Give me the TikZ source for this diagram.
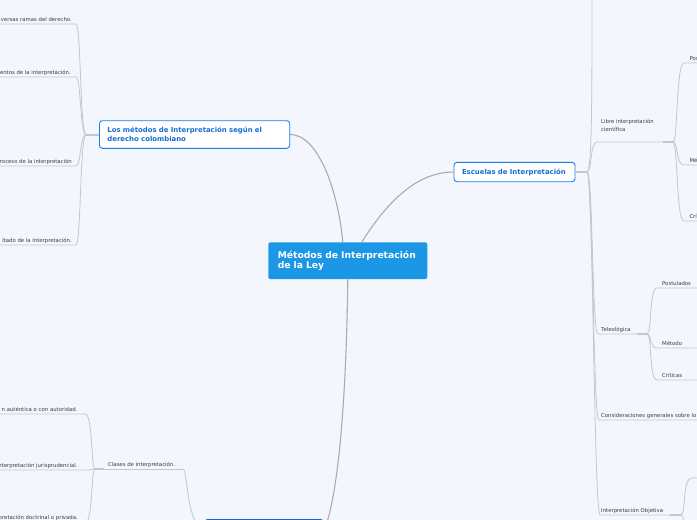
\documentclass[tikz,border=0pt]{standalone}
\usepackage{fontspec}
\setmainfont{DejaVu Sans}
\definecolor{bg}{RGB}{243,246,253}
\definecolor{lineg}{RGB}{196,198,204}
\definecolor{lined}{RGB}{170,172,178}
\definecolor{rootblue}{RGB}{27,151,230}
\definecolor{nodeblue}{RGB}{26,124,230}
\definecolor{textblue}{RGB}{20,110,210}
\definecolor{darkblue}{RGB}{21,101,192}
\definecolor{txt}{RGB}{60,60,64}
\begin{document}
\begin{tikzpicture}[x=1pt,y=-1pt,
  ln/.style={draw=lineg, line width=0.8pt},
  stub/.style={draw=lineg, line width=2pt},
  rootln/.style={draw=lined, line width=1.1pt},
  lbl/.style={font=\fontsize{5.35}{8}\selectfont, text=txt, inner sep=0pt},
  topic/.style={draw=nodeblue, line width=0.9pt, fill=white, rounded corners=3pt,
    font=\bfseries\fontsize{6.9}{8.6}\selectfont, text=textblue, align=left, inner ysep=0pt},
  rootnode/.style={fill=rootblue, rounded corners=2pt, inner ysep=0pt,
    font=\bfseries\fontsize{9.2}{10.7}\selectfont, text=white, align=left}
]
\useasboundingbox (0,0) rectangle (697,520);
\fill[bg] (0,0) rectangle (697,520);
\clip (0,0) rectangle (697,520);

% main nodes
\node[rootnode, text width=140pt, inner xsep=9.5pt, minimum height=36.7pt] (root) at (347.8,260.7)
  {Métodos de Interpretación\\de la Ley};
\node[topic, text width=174.3pt, inner xsep=8pt, minimum height=27.6pt] (lm) at (194.6,134.5)
  {Los métodos de Interpretación según el\\derecho colombiano};
\node[topic, text width=105pt, inner xsep=8pt, minimum height=19.4pt] (esc) at (514.5,172)
  {Escuelas de Interpretación};
\node[fill=darkblue, minimum width=118pt, minimum height=26pt, inner sep=0pt, rounded corners=2pt, anchor=north] (bn) at (264,519) {};

% root connectors
\draw[rootln] (lm.east) .. controls (318,134.5) and (338,190) .. ([xshift=-5pt]root.north);
\draw[rootln] ([xshift=14pt]root.north) .. controls (385,205) and (415,172) .. (esc.west);
\draw[rootln] (root.south) .. controls (346,420) and (336,505) .. (bn.east);

% ---- left branch: Los metodos ----
\coordinate (jm) at (86,134.5);
\draw[stub] (lm.west) -- (jm);
\node[lbl, anchor=base east] (m1) at (72,21) {versas ramas del derecho.};
\node[lbl, anchor=base east] (m2) at (71,74) {entos de la interpretación.};
\node[lbl, anchor=base east] (m3) at (72,163) {roceso de la interpretación};
\node[lbl, anchor=base east] (m4) at (72,242) {ltado de la interpretación.};
\foreach \yc in {24,77,166,245}{
  \draw[ln] (jm) .. controls (80,134.5) and (81,\yc) .. (76,\yc) -- (-5,\yc);
}

% ---- bottom left: Clases ----
\node[lbl, anchor=base west] (cl) at (108,466) {Clases de interpretación.};
\coordinate (clr) at (183,469);
\coordinate (cll) at (104,469);
\draw[ln] (cll) -- (clr);
\draw[ln] (clr) .. controls (188,470) and (186,525) .. (bn.west);
\coordinate (jc) at (95,469);
\draw[stub] (cll) -- (jc);
\node[lbl, anchor=base east] (c1) at (77.7,411) {n auténtica o con autoridad.};
\node[lbl, anchor=base east] (c2) at (77.7,467) {nterpretación jurisprudencial.};
\node[lbl, anchor=base east] (c3) at (78,519.5) {rpretación doctrinal o privada.};
\foreach \yc in {414,470,523}{
  \draw[ln] (jc) .. controls (91,469) and (93,\yc) .. (85,\yc) -- (-5,\yc);
}

% ---- right branch: Escuelas ----
\coordinate (je) at (587,172);
\draw[stub] (esc.east) -- (je);
\draw[ln] (je) .. controls (592,172) and (592,100) .. (592,-20);
\node[lbl, anchor=base west, align=left] (lib) at (601,131) {Libre interpretación\\científica};
\node[lbl, anchor=base west] (tel) at (601,331) {Teleológica};
\node[lbl, anchor=base west] (con) at (601,417) {Consideraciones generales sobre lo};
\node[lbl, anchor=base west] (obj) at (601,512) {Interpretación Objetiva};
\coordinate (jl) at (673,142);
\coordinate (jt) at (647,334);
\coordinate (jo) at (681,515);
\draw[ln] (je) .. controls (592,172) and (590,142) .. (597,142) -- (663,142);
\draw[stub] (663,142) -- (jl);
\draw[ln] (je) .. controls (593,172) and (592,334) .. (598,334) -- (637,334);
\draw[stub] (637,334) -- (jt);
\draw[ln] (je) .. controls (593,172) and (593,420) .. (599,420) -- (700,420);
\draw[ln] (je) .. controls (593,172) and (594,515) .. (600,515) -- (670,515);
\draw[stub] (670,515) -- (jo);

% Libre children
\node[lbl, anchor=base west] (l1) at (689.3,60) {Postulados};
\node[lbl, anchor=base west] (l2) at (689.3,162) {Método};
\node[lbl, anchor=base west] (l3) at (689.3,218) {Críticas};
\foreach \yc in {63,165,221}{
  \draw[ln] (jl) .. controls (678,142) and (676,\yc) .. (684,\yc) -- (700,\yc);
}

% Teleologica children
\node[lbl, anchor=base west] (t1) at (662,285) {Postulados};
\node[lbl, anchor=base west] (t2) at (662,345) {Método};
\node[lbl, anchor=base west] (t3) at (662,377) {Críticas};
\foreach \yc in {288,348,380}{
  \draw[ln] (jt) .. controls (652,334) and (649,\yc) .. (657,\yc) -- (700,\yc);
}

% Objetiva children
\draw[ln] (jo) .. controls (686,515) and (682,478) .. (692,478) -- (700,478);
\draw[ln] (jo) .. controls (686,515) and (682,545) .. (692,545) -- (700,545);
\end{tikzpicture}
\end{document}
